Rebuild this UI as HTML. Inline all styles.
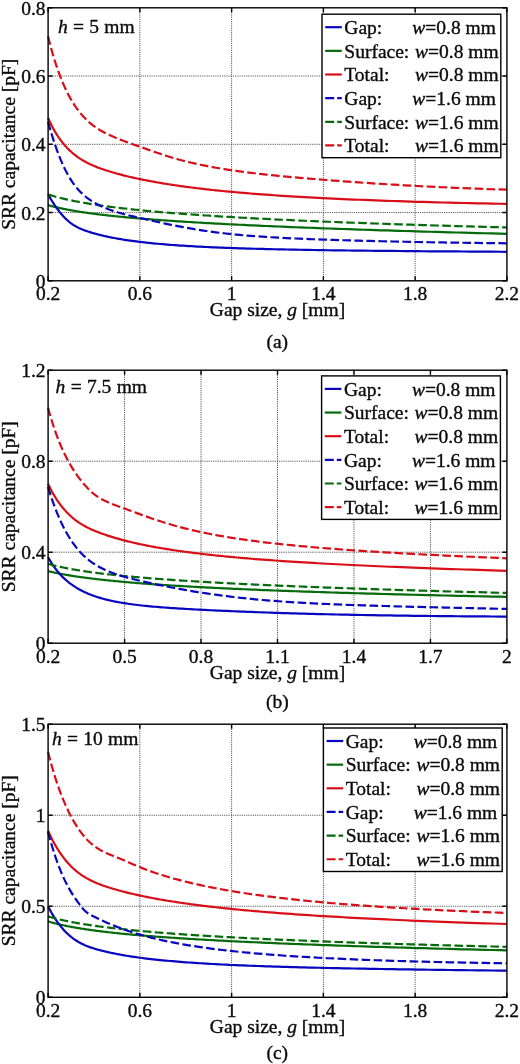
<!DOCTYPE html>
<html><head><meta charset="utf-8"><title>SRR capacitance vs gap size</title>
<style>
html,body{margin:0;padding:0;background:#fff;}
body{width:520px;height:1064px;overflow:hidden;}
svg{display:block;font-family:'Liberation Serif','Times New Roman',serif;font-size:19.5px;}
text{fill:#0a0a0a;stroke:#0a0a0a;stroke-width:0.35px;}
.gr{stroke:#5a5a5a;stroke-width:1;stroke-dasharray:1.2 1;fill:none;}
.ax{stroke:#000000;stroke-width:1.4;fill:none;}
rect.ax[fill]{fill:#fff;}
.cv{fill:none;stroke-width:2.2;stroke-linejoin:round;}
.ds{stroke-dasharray:8.6 3.4;}
.ld{stroke-dasharray:9 3;}
</style></head>
<body>
<svg width="520" height="1064" viewBox="0 0 520 1064">
<line x1="139.86" y1="7.8" x2="139.86" y2="280.8" class="gr"/>
<line x1="231.62" y1="7.8" x2="231.62" y2="280.8" class="gr"/>
<line x1="323.38" y1="7.8" x2="323.38" y2="280.8" class="gr"/>
<line x1="415.14" y1="7.8" x2="415.14" y2="280.8" class="gr"/>
<line x1="48.1" y1="212.55" x2="506.9" y2="212.55" class="gr"/>
<line x1="48.1" y1="144.3" x2="506.9" y2="144.3" class="gr"/>
<line x1="48.1" y1="76.05" x2="506.9" y2="76.05" class="gr"/>
<path d="M48.1 205.15 L48.8 205.35 L49.5 205.55 L50.22 205.75 L50.95 205.94 L51.69 206.14 L52.45 206.33 L53.21 206.53 L53.98 206.72 L54.77 206.92 L55.57 207.11 L56.38 207.3 L57.2 207.49 L58.04 207.69 L58.89 207.88 L59.75 208.07 L60.62 208.26 L61.51 208.45 L62.41 208.64 L63.32 208.82 L64.25 209.01 L65.19 209.2 L66.15 209.39 L67.12 209.58 L68.11 209.76 L69.11 209.95 L70.13 210.13 L71.16 210.32 L72.21 210.5 L73.27 210.69 L74.35 210.87 L75.45 211.06 L76.56 211.24 L77.69 211.42 L78.83 211.61 L80 211.79 L81.18 211.97 L82.38 212.15 L83.6 212.33 L84.84 212.51 L86.09 212.69 L87.36 212.87 L88.66 213.05 L89.97 213.23 L91.31 213.41 L92.66 213.59 L94.03 213.77 L95.43 213.95 L96.85 214.13 L98.28 214.31 L99.74 214.48 L101.22 214.66 L102.73 214.84 L104.26 215.02 L105.81 215.19 L107.38 215.37 L108.98 215.55 L110.6 215.72 L112.25 215.9 L113.92 216.07 L115.62 216.25 L117.34 216.43 L119.09 216.6 L120.87 216.78 L122.67 216.95 L124.5 217.13 L126.36 217.3 L128.24 217.48 L130.16 217.65 L132.1 217.82 L134.08 218 L136.08 218.17 L138.11 218.35 L140.18 218.52 L142.27 218.69 L144.4 218.87 L146.56 219.04 L148.76 219.21 L150.98 219.39 L153.24 219.56 L155.54 219.73 L157.87 219.91 L160.23 220.08 L162.63 220.25 L165.07 220.43 L167.55 220.6 L170.06 220.77 L172.61 220.95 L175.2 221.12 L177.83 221.29 L180.5 221.47 L183.2 221.64 L185.95 221.81 L188.75 221.99 L191.58 222.16 L194.46 222.33 L197.38 222.51 L200.34 222.68 L203.36 222.85 L206.41 223.03 L209.51 223.2 L212.66 223.37 L215.86 223.55 L219.11 223.72 L222.4 223.9 L225.75 224.07 L229.15 224.24 L232.59 224.42 L236.1 224.59 L239.65 224.77 L243.26 224.94 L246.92 225.12 L250.64 225.29 L254.41 225.47 L258.24 225.64 L262.14 225.82 L266.08 226 L270.09 226.17 L274.16 226.35 L278.3 226.52 L282.49 226.7 L286.75 226.88 L291.07 227.06 L295.46 227.23 L299.92 227.41 L304.44 227.59 L309.04 227.77 L313.7 227.95 L318.43 228.12 L323.24 228.3 L328.11 228.48 L333.07 228.66 L338.09 228.84 L343.2 229.02 L348.38 229.2 L353.64 229.38 L358.98 229.56 L364.4 229.75 L369.9 229.93 L375.49 230.11 L381.16 230.29 L386.92 230.47 L392.77 230.66 L398.7 230.84 L404.73 231.02 L410.84 231.21 L417.05 231.39 L423.35 231.58 L429.75 231.76 L436.25 231.95 L442.85 232.14 L449.54 232.32 L456.34 232.51 L463.24 232.7 L470.24 232.89 L477.36 233.07 L484.58 233.26 L491.91 233.45 L499.35 233.64 L506.9 233.83" stroke="#056a0a" class="cv"/>
<path d="M48.1 194.48 L48.8 195.7 L49.5 196.92 L50.22 198.13 L50.95 199.34 L51.69 200.55 L52.45 201.75 L53.21 202.95 L53.98 204.13 L54.77 205.31 L55.57 206.48 L56.38 207.63 L57.2 208.77 L58.04 209.9 L58.89 211.01 L59.75 212.1 L60.62 213.18 L61.51 214.23 L62.41 215.27 L63.32 216.28 L64.25 217.26 L65.19 218.22 L66.15 219.16 L67.12 220.06 L68.11 220.94 L69.11 221.78 L70.13 222.59 L71.16 223.37 L72.21 224.12 L73.27 224.83 L74.35 225.51 L75.45 226.15 L76.56 226.77 L77.69 227.36 L78.83 227.93 L80 228.47 L81.18 229 L82.38 229.5 L83.6 229.98 L84.84 230.44 L86.09 230.89 L87.36 231.33 L88.66 231.76 L89.97 232.17 L91.31 232.58 L92.66 232.98 L94.03 233.37 L95.43 233.76 L96.85 234.14 L98.28 234.52 L99.74 234.89 L101.22 235.25 L102.73 235.61 L104.26 235.97 L105.81 236.32 L107.38 236.66 L108.98 236.99 L110.6 237.33 L112.25 237.65 L113.92 237.97 L115.62 238.29 L117.34 238.6 L119.09 238.9 L120.87 239.2 L122.67 239.5 L124.5 239.79 L126.36 240.07 L128.24 240.35 L130.16 240.62 L132.1 240.89 L134.08 241.16 L136.08 241.42 L138.11 241.67 L140.18 241.93 L142.27 242.17 L144.4 242.41 L146.56 242.65 L148.76 242.88 L150.98 243.11 L153.24 243.34 L155.54 243.56 L157.87 243.77 L160.23 243.98 L162.63 244.19 L165.07 244.39 L167.55 244.59 L170.06 244.79 L172.61 244.98 L175.2 245.17 L177.83 245.35 L180.5 245.53 L183.2 245.71 L185.95 245.88 L188.75 246.05 L191.58 246.21 L194.46 246.38 L197.38 246.53 L200.34 246.69 L203.36 246.84 L206.41 246.99 L209.51 247.13 L212.66 247.28 L215.86 247.41 L219.11 247.55 L222.4 247.68 L225.75 247.81 L229.15 247.94 L232.59 248.06 L236.1 248.18 L239.65 248.3 L243.26 248.42 L246.92 248.53 L250.64 248.64 L254.41 248.75 L258.24 248.85 L262.14 248.95 L266.08 249.05 L270.09 249.15 L274.16 249.25 L278.3 249.34 L282.49 249.43 L286.75 249.52 L291.07 249.6 L295.46 249.69 L299.92 249.77 L304.44 249.85 L309.04 249.93 L313.7 250.01 L318.43 250.08 L323.24 250.16 L328.11 250.23 L333.07 250.3 L338.09 250.36 L343.2 250.43 L348.38 250.5 L353.64 250.56 L358.98 250.62 L364.4 250.68 L369.9 250.74 L375.49 250.8 L381.16 250.86 L386.92 250.91 L392.77 250.97 L398.7 251.02 L404.73 251.07 L410.84 251.13 L417.05 251.18 L423.35 251.23 L429.75 251.28 L436.25 251.32 L442.85 251.37 L449.54 251.42 L456.34 251.47 L463.24 251.51 L470.24 251.56 L477.36 251.6 L484.58 251.65 L491.91 251.69 L499.35 251.74 L506.9 251.78" stroke="#0707bf" class="cv"/>
<path d="M48.1 117.85 L48.8 119.45 L49.5 121.02 L50.22 122.56 L50.95 124.08 L51.69 125.57 L52.45 127.03 L53.21 128.46 L53.98 129.87 L54.77 131.25 L55.57 132.6 L56.38 133.92 L57.2 135.22 L58.04 136.5 L58.89 137.75 L59.75 138.97 L60.62 140.17 L61.51 141.35 L62.41 142.5 L63.32 143.62 L64.25 144.73 L65.19 145.81 L66.15 146.86 L67.12 147.9 L68.11 148.91 L69.11 149.89 L70.13 150.86 L71.16 151.8 L72.21 152.72 L73.27 153.62 L74.35 154.5 L75.45 155.36 L76.56 156.2 L77.69 157.02 L78.83 157.82 L80 158.59 L81.18 159.35 L82.38 160.09 L83.6 160.81 L84.84 161.51 L86.09 162.19 L87.36 162.86 L88.66 163.51 L89.97 164.14 L91.31 164.76 L92.66 165.37 L94.03 165.96 L95.43 166.54 L96.85 167.11 L98.28 167.66 L99.74 168.21 L101.22 168.74 L102.73 169.27 L104.26 169.79 L105.81 170.3 L107.38 170.8 L108.98 171.3 L110.6 171.79 L112.25 172.28 L113.92 172.76 L115.62 173.24 L117.34 173.71 L119.09 174.18 L120.87 174.65 L122.67 175.12 L124.5 175.58 L126.36 176.04 L128.24 176.5 L130.16 176.95 L132.1 177.4 L134.08 177.84 L136.08 178.28 L138.11 178.72 L140.18 179.16 L142.27 179.59 L144.4 180.02 L146.56 180.44 L148.76 180.86 L150.98 181.28 L153.24 181.7 L155.54 182.11 L157.87 182.52 L160.23 182.92 L162.63 183.32 L165.07 183.72 L167.55 184.12 L170.06 184.51 L172.61 184.9 L175.2 185.28 L177.83 185.66 L180.5 186.04 L183.2 186.42 L185.95 186.79 L188.75 187.15 L191.58 187.52 L194.46 187.88 L197.38 188.24 L200.34 188.59 L203.36 188.94 L206.41 189.29 L209.51 189.63 L212.66 189.97 L215.86 190.31 L219.11 190.65 L222.4 190.98 L225.75 191.3 L229.15 191.63 L232.59 191.95 L236.1 192.26 L239.65 192.58 L243.26 192.89 L246.92 193.19 L250.64 193.5 L254.41 193.8 L258.24 194.09 L262.14 194.39 L266.08 194.68 L270.09 194.96 L274.16 195.25 L278.3 195.53 L282.49 195.8 L286.75 196.07 L291.07 196.34 L295.46 196.61 L299.92 196.87 L304.44 197.13 L309.04 197.39 L313.7 197.64 L318.43 197.89 L323.24 198.13 L328.11 198.38 L333.07 198.61 L338.09 198.85 L343.2 199.08 L348.38 199.31 L353.64 199.53 L358.98 199.76 L364.4 199.97 L369.9 200.19 L375.49 200.4 L381.16 200.61 L386.92 200.81 L392.77 201.01 L398.7 201.21 L404.73 201.4 L410.84 201.59 L417.05 201.78 L423.35 201.96 L429.75 202.15 L436.25 202.32 L442.85 202.5 L449.54 202.67 L456.34 202.83 L463.24 203 L470.24 203.15 L477.36 203.31 L484.58 203.46 L491.91 203.61 L499.35 203.76 L506.9 203.9" stroke="#d80f18" class="cv"/>
<path d="M48.1 194.48 L48.8 194.7 L49.5 194.92 L50.22 195.14 L50.95 195.36 L51.69 195.58 L52.45 195.81 L53.21 196.03 L53.98 196.25 L54.77 196.47 L55.57 196.69 L56.38 196.91 L57.2 197.13 L58.04 197.35 L58.89 197.57 L59.75 197.79 L60.62 198.01 L61.51 198.23 L62.41 198.44 L63.32 198.66 L64.25 198.88 L65.19 199.1 L66.15 199.32 L67.12 199.53 L68.11 199.75 L69.11 199.97 L70.13 200.19 L71.16 200.4 L72.21 200.62 L73.27 200.84 L74.35 201.05 L75.45 201.27 L76.56 201.48 L77.69 201.7 L78.83 201.92 L80 202.13 L81.18 202.35 L82.38 202.56 L83.6 202.77 L84.84 202.99 L86.09 203.2 L87.36 203.42 L88.66 203.63 L89.97 203.85 L91.31 204.06 L92.66 204.27 L94.03 204.48 L95.43 204.7 L96.85 204.91 L98.28 205.12 L99.74 205.34 L101.22 205.55 L102.73 205.76 L104.26 205.97 L105.81 206.18 L107.38 206.39 L108.98 206.61 L110.6 206.82 L112.25 207.03 L113.92 207.24 L115.62 207.45 L117.34 207.66 L119.09 207.87 L120.87 208.08 L122.67 208.29 L124.5 208.5 L126.36 208.71 L128.24 208.92 L130.16 209.12 L132.1 209.33 L134.08 209.54 L136.08 209.75 L138.11 209.96 L140.18 210.17 L142.27 210.37 L144.4 210.58 L146.56 210.79 L148.76 211 L150.98 211.2 L153.24 211.41 L155.54 211.62 L157.87 211.82 L160.23 212.03 L162.63 212.24 L165.07 212.44 L167.55 212.65 L170.06 212.85 L172.61 213.06 L175.2 213.27 L177.83 213.47 L180.5 213.68 L183.2 213.88 L185.95 214.09 L188.75 214.29 L191.58 214.49 L194.46 214.7 L197.38 214.9 L200.34 215.11 L203.36 215.31 L206.41 215.51 L209.51 215.72 L212.66 215.92 L215.86 216.12 L219.11 216.33 L222.4 216.53 L225.75 216.73 L229.15 216.93 L232.59 217.14 L236.1 217.34 L239.65 217.54 L243.26 217.74 L246.92 217.94 L250.64 218.14 L254.41 218.34 L258.24 218.55 L262.14 218.75 L266.08 218.95 L270.09 219.15 L274.16 219.35 L278.3 219.55 L282.49 219.75 L286.75 219.95 L291.07 220.15 L295.46 220.35 L299.92 220.55 L304.44 220.75 L309.04 220.95 L313.7 221.14 L318.43 221.34 L323.24 221.54 L328.11 221.74 L333.07 221.94 L338.09 222.14 L343.2 222.34 L348.38 222.53 L353.64 222.73 L358.98 222.93 L364.4 223.13 L369.9 223.32 L375.49 223.52 L381.16 223.72 L386.92 223.91 L392.77 224.11 L398.7 224.31 L404.73 224.5 L410.84 224.7 L417.05 224.9 L423.35 225.09 L429.75 225.29 L436.25 225.48 L442.85 225.68 L449.54 225.87 L456.34 226.07 L463.24 226.27 L470.24 226.46 L477.36 226.66 L484.58 226.85 L491.91 227.04 L499.35 227.24 L506.9 227.43" stroke="#056a0a" class="cv ds"/>
<path d="M48.1 121.87 L48.8 124.4 L49.5 126.9 L50.22 129.39 L50.95 131.87 L51.69 134.32 L52.45 136.75 L53.21 139.16 L53.98 141.54 L54.77 143.9 L55.57 146.23 L56.38 148.53 L57.2 150.8 L58.04 153.04 L58.89 155.24 L59.75 157.41 L60.62 159.55 L61.51 161.64 L62.41 163.7 L63.32 165.72 L64.25 167.69 L65.19 169.62 L66.15 171.51 L67.12 173.34 L68.11 175.14 L69.11 176.88 L70.13 178.57 L71.16 180.2 L72.21 181.79 L73.27 183.32 L74.35 184.79 L75.45 186.22 L76.56 187.6 L77.69 188.93 L78.83 190.22 L80 191.45 L81.18 192.65 L82.38 193.8 L83.6 194.91 L84.84 195.99 L86.09 197.02 L87.36 198.02 L88.66 198.98 L89.97 199.9 L91.31 200.8 L92.66 201.66 L94.03 202.49 L95.43 203.3 L96.85 204.07 L98.28 204.82 L99.74 205.55 L101.22 206.25 L102.73 206.93 L104.26 207.59 L105.81 208.23 L107.38 208.85 L108.98 209.45 L110.6 210.03 L112.25 210.6 L113.92 211.16 L115.62 211.7 L117.34 212.23 L119.09 212.75 L120.87 213.26 L122.67 213.76 L124.5 214.25 L126.36 214.74 L128.24 215.22 L130.16 215.7 L132.1 216.18 L134.08 216.65 L136.08 217.12 L138.11 217.6 L140.18 218.07 L142.27 218.55 L144.4 219.03 L146.56 219.52 L148.76 220.01 L150.98 220.51 L153.24 221.01 L155.54 221.52 L157.87 222.03 L160.23 222.54 L162.63 223.06 L165.07 223.57 L167.55 224.09 L170.06 224.6 L172.61 225.12 L175.2 225.63 L177.83 226.15 L180.5 226.66 L183.2 227.16 L185.95 227.66 L188.75 228.16 L191.58 228.65 L194.46 229.14 L197.38 229.62 L200.34 230.09 L203.36 230.56 L206.41 231.01 L209.51 231.46 L212.66 231.9 L215.86 232.32 L219.11 232.74 L222.4 233.14 L225.75 233.53 L229.15 233.91 L232.59 234.27 L236.1 234.62 L239.65 234.95 L243.26 235.28 L246.92 235.59 L250.64 235.88 L254.41 236.17 L258.24 236.45 L262.14 236.71 L266.08 236.96 L270.09 237.21 L274.16 237.44 L278.3 237.67 L282.49 237.89 L286.75 238.1 L291.07 238.3 L295.46 238.5 L299.92 238.69 L304.44 238.88 L309.04 239.06 L313.7 239.24 L318.43 239.41 L323.24 239.58 L328.11 239.75 L333.07 239.91 L338.09 240.07 L343.2 240.23 L348.38 240.38 L353.64 240.54 L358.98 240.68 L364.4 240.83 L369.9 240.97 L375.49 241.11 L381.16 241.25 L386.92 241.39 L392.77 241.52 L398.7 241.65 L404.73 241.77 L410.84 241.89 L417.05 242.01 L423.35 242.13 L429.75 242.24 L436.25 242.35 L442.85 242.46 L449.54 242.57 L456.34 242.67 L463.24 242.77 L470.24 242.86 L477.36 242.96 L484.58 243.05 L491.91 243.14 L499.35 243.22 L506.9 243.3" stroke="#0707bf" class="cv ds"/>
<path d="M48.1 36.31 L48.8 39.19 L49.5 42.02 L50.22 44.82 L50.95 47.57 L51.69 50.28 L52.45 52.96 L53.21 55.59 L53.98 58.18 L54.77 60.73 L55.57 63.24 L56.38 65.71 L57.2 68.14 L58.04 70.53 L58.89 72.88 L59.75 75.19 L60.62 77.46 L61.51 79.69 L62.41 81.88 L63.32 84.02 L64.25 86.13 L65.19 88.19 L66.15 90.21 L67.12 92.19 L68.11 94.13 L69.11 96.03 L70.13 97.88 L71.16 99.69 L72.21 101.46 L73.27 103.19 L74.35 104.87 L75.45 106.51 L76.56 108.11 L77.69 109.66 L78.83 111.17 L80 112.64 L81.18 114.07 L82.38 115.46 L83.6 116.81 L84.84 118.11 L86.09 119.38 L87.36 120.61 L88.66 121.79 L89.97 122.94 L91.31 124.05 L92.66 125.12 L94.03 126.15 L95.43 127.15 L96.85 128.11 L98.28 129.04 L99.74 129.95 L101.22 130.82 L102.73 131.67 L104.26 132.5 L105.81 133.31 L107.38 134.09 L108.98 134.86 L110.6 135.61 L112.25 136.34 L113.92 137.06 L115.62 137.77 L117.34 138.47 L119.09 139.17 L120.87 139.85 L122.67 140.54 L124.5 141.22 L126.36 141.9 L128.24 142.59 L130.16 143.27 L132.1 143.97 L134.08 144.67 L136.08 145.37 L138.11 146.09 L140.18 146.83 L142.27 147.57 L144.4 148.33 L146.56 149.1 L148.76 149.87 L150.98 150.66 L153.24 151.45 L155.54 152.24 L157.87 153.03 L160.23 153.83 L162.63 154.62 L165.07 155.41 L167.55 156.2 L170.06 156.98 L172.61 157.74 L175.2 158.5 L177.83 159.25 L180.5 159.99 L183.2 160.71 L185.95 161.41 L188.75 162.1 L191.58 162.78 L194.46 163.44 L197.38 164.09 L200.34 164.72 L203.36 165.35 L206.41 165.95 L209.51 166.55 L212.66 167.13 L215.86 167.71 L219.11 168.26 L222.4 168.81 L225.75 169.35 L229.15 169.87 L232.59 170.38 L236.1 170.89 L239.65 171.38 L243.26 171.86 L246.92 172.33 L250.64 172.8 L254.41 173.25 L258.24 173.7 L262.14 174.14 L266.08 174.57 L270.09 175 L274.16 175.42 L278.3 175.83 L282.49 176.24 L286.75 176.64 L291.07 177.04 L295.46 177.44 L299.92 177.83 L304.44 178.22 L309.04 178.61 L313.7 179 L318.43 179.38 L323.24 179.77 L328.11 180.15 L333.07 180.53 L338.09 180.92 L343.2 181.3 L348.38 181.68 L353.64 182.05 L358.98 182.43 L364.4 182.8 L369.9 183.17 L375.49 183.54 L381.16 183.9 L386.92 184.26 L392.77 184.61 L398.7 184.96 L404.73 185.31 L410.84 185.65 L417.05 185.98 L423.35 186.31 L429.75 186.64 L436.25 186.95 L442.85 187.27 L449.54 187.57 L456.34 187.86 L463.24 188.15 L470.24 188.43 L477.36 188.71 L484.58 188.97 L491.91 189.23 L499.35 189.47 L506.9 189.71" stroke="#d80f18" class="cv ds"/>
<path d="M48.1 280.8v-4.5M48.1 7.8v4.5M139.86 280.8v-4.5M139.86 7.8v4.5M231.62 280.8v-4.5M231.62 7.8v4.5M323.38 280.8v-4.5M323.38 7.8v4.5M415.14 280.8v-4.5M415.14 7.8v4.5M506.9 280.8v-4.5M506.9 7.8v4.5M48.1 280.8h4.5M506.9 280.8h-4.5M48.1 212.55h4.5M506.9 212.55h-4.5M48.1 144.3h4.5M506.9 144.3h-4.5M48.1 76.05h4.5M506.9 76.05h-4.5M48.1 7.8h4.5M506.9 7.8h-4.5" class="ax"/>
<rect x="48.1" y="7.8" width="458.8" height="273" class="ax"/>
<text x="48.1" y="300.1" text-anchor="middle">0.2</text>
<text x="139.86" y="300.1" text-anchor="middle">0.6</text>
<text x="231.62" y="300.1" text-anchor="middle">1</text>
<text x="323.38" y="300.1" text-anchor="middle">1.4</text>
<text x="415.14" y="300.1" text-anchor="middle">1.8</text>
<text x="506.9" y="300.1" text-anchor="middle">2.2</text>
<text x="45.6" y="287.8" text-anchor="end">0</text>
<text x="45.6" y="219.55" text-anchor="end">0.2</text>
<text x="45.6" y="151.3" text-anchor="end">0.4</text>
<text x="45.6" y="83.05" text-anchor="end">0.6</text>
<text x="45.6" y="14.8" text-anchor="end">0.8</text>
<text x="277.5" y="316.1" text-anchor="middle">Gap size, <tspan font-style="italic">g</tspan> [mm]</text>
<text transform="translate(15 144.3) rotate(-90)" text-anchor="middle">SRR capacitance [pF]</text>
<text x="57.9" y="32.6" word-spacing="0.45"><tspan font-style="italic">h</tspan> = 5 mm</text>
<text x="277.3" y="347.8" text-anchor="middle">(a)</text>
<rect x="322" y="14.2" width="178.8" height="143.5" fill="#fff" class="ax"/>
<line x1="325.2" y1="27.2" x2="341.8" y2="27.2" stroke="#0707bf" stroke-width="2.2"/>
<text x="344.3" y="34">Gap:</text>
<text x="412.3" y="34"><tspan font-style="italic">w</tspan>=0.8 mm</text>
<line x1="325.2" y1="50.85" x2="341.8" y2="50.85" stroke="#056a0a" stroke-width="2.2"/>
<text x="344.3" y="57.65">Surface:</text>
<text x="415" y="57.65"><tspan font-style="italic">w</tspan>=0.8 mm</text>
<line x1="325.2" y1="74.5" x2="341.8" y2="74.5" stroke="#d80f18" stroke-width="2.2"/>
<text x="344.3" y="81.3">Total:</text>
<text x="415" y="81.3"><tspan font-style="italic">w</tspan>=0.8 mm</text>
<line x1="325.2" y1="98.15" x2="341.8" y2="98.15" stroke="#0707bf" stroke-width="2.2" class="ld"/>
<text x="344.3" y="104.95">Gap:</text>
<text x="412.3" y="104.95"><tspan font-style="italic">w</tspan>=1.6 mm</text>
<line x1="325.2" y1="121.8" x2="341.8" y2="121.8" stroke="#056a0a" stroke-width="2.2" class="ld"/>
<text x="344.3" y="128.6">Surface:</text>
<text x="415" y="128.6"><tspan font-style="italic">w</tspan>=1.6 mm</text>
<line x1="325.2" y1="145.45" x2="341.8" y2="145.45" stroke="#d80f18" stroke-width="2.2" class="ld"/>
<text x="344.3" y="152.25">Total:</text>
<text x="415" y="152.25"><tspan font-style="italic">w</tspan>=1.6 mm</text>
<line x1="124.57" y1="370.2" x2="124.57" y2="643.2" class="gr"/>
<line x1="201.03" y1="370.2" x2="201.03" y2="643.2" class="gr"/>
<line x1="277.5" y1="370.2" x2="277.5" y2="643.2" class="gr"/>
<line x1="353.97" y1="370.2" x2="353.97" y2="643.2" class="gr"/>
<line x1="430.43" y1="370.2" x2="430.43" y2="643.2" class="gr"/>
<line x1="48.1" y1="552.2" x2="506.9" y2="552.2" class="gr"/>
<line x1="48.1" y1="461.2" x2="506.9" y2="461.2" class="gr"/>
<path d="M48.1 571.14 L48.84 571.32 L49.6 571.5 L50.36 571.68 L51.14 571.86 L51.93 572.03 L52.73 572.21 L53.54 572.39 L54.36 572.57 L55.2 572.74 L56.04 572.92 L56.9 573.1 L57.78 573.27 L58.66 573.45 L59.56 573.63 L60.47 573.8 L61.39 573.98 L62.33 574.15 L63.28 574.33 L64.25 574.5 L65.23 574.67 L66.22 574.85 L67.23 575.02 L68.25 575.2 L69.29 575.37 L70.34 575.54 L71.41 575.71 L72.49 575.89 L73.59 576.06 L74.71 576.23 L75.84 576.4 L76.99 576.57 L78.15 576.74 L79.33 576.91 L80.53 577.09 L81.75 577.26 L82.98 577.43 L84.24 577.6 L85.51 577.76 L86.8 577.93 L88.1 578.1 L89.43 578.27 L90.78 578.44 L92.14 578.61 L93.53 578.78 L94.94 578.94 L96.36 579.11 L97.81 579.28 L99.28 579.45 L100.77 579.61 L102.28 579.78 L103.82 579.95 L105.37 580.11 L106.95 580.28 L108.55 580.44 L110.18 580.61 L111.83 580.78 L113.5 580.94 L115.2 581.11 L116.92 581.27 L118.67 581.43 L120.44 581.6 L122.24 581.76 L124.06 581.93 L125.92 582.09 L127.8 582.25 L129.7 582.42 L131.64 582.58 L133.6 582.74 L135.59 582.91 L137.61 583.07 L139.66 583.23 L141.74 583.39 L143.85 583.55 L145.99 583.72 L148.16 583.88 L150.36 584.04 L152.6 584.2 L154.86 584.36 L157.17 584.52 L159.5 584.68 L161.87 584.84 L164.27 585 L166.71 585.16 L169.18 585.32 L171.69 585.48 L174.24 585.64 L176.82 585.8 L179.44 585.96 L182.1 586.11 L184.8 586.27 L187.54 586.43 L190.32 586.59 L193.14 586.75 L196 586.91 L198.9 587.06 L201.84 587.22 L204.83 587.38 L207.86 587.53 L210.93 587.69 L214.05 587.85 L217.21 588.01 L220.42 588.16 L223.68 588.32 L226.99 588.47 L230.34 588.63 L233.74 588.79 L237.19 588.94 L240.69 589.1 L244.25 589.25 L247.85 589.41 L251.51 589.56 L255.22 589.72 L258.98 589.87 L262.8 590.03 L266.68 590.18 L270.61 590.33 L274.6 590.49 L278.65 590.64 L282.76 590.8 L286.92 590.95 L291.15 591.1 L295.44 591.26 L299.79 591.41 L304.2 591.56 L308.68 591.72 L313.23 591.87 L317.84 592.02 L322.52 592.17 L327.26 592.33 L332.08 592.48 L336.97 592.63 L341.92 592.78 L346.95 592.94 L352.06 593.09 L357.23 593.24 L362.49 593.39 L367.82 593.54 L373.22 593.69 L378.71 593.84 L384.28 594 L389.92 594.15 L395.65 594.3 L401.47 594.45 L407.37 594.6 L413.35 594.75 L419.42 594.9 L425.58 595.05 L431.83 595.2 L438.17 595.35 L444.61 595.5 L451.13 595.65 L457.76 595.8 L464.48 595.95 L471.29 596.1 L478.21 596.25 L485.23 596.4 L492.35 596.55 L499.57 596.69 L506.9 596.84" stroke="#056a0a" class="cv"/>
<path d="M48.1 557.25 L48.84 558.58 L49.6 559.89 L50.36 561.17 L51.14 562.43 L51.93 563.66 L52.73 564.87 L53.54 566.06 L54.36 567.22 L55.2 568.36 L56.04 569.47 L56.9 570.56 L57.78 571.63 L58.66 572.68 L59.56 573.71 L60.47 574.71 L61.39 575.7 L62.33 576.66 L63.28 577.6 L64.25 578.52 L65.23 579.42 L66.22 580.3 L67.23 581.17 L68.25 582.01 L69.29 582.83 L70.34 583.64 L71.41 584.42 L72.49 585.19 L73.59 585.94 L74.71 586.68 L75.84 587.39 L76.99 588.09 L78.15 588.77 L79.33 589.44 L80.53 590.09 L81.75 590.72 L82.98 591.34 L84.24 591.94 L85.51 592.53 L86.8 593.1 L88.1 593.66 L89.43 594.21 L90.78 594.74 L92.14 595.26 L93.53 595.76 L94.94 596.25 L96.36 596.73 L97.81 597.2 L99.28 597.65 L100.77 598.09 L102.28 598.52 L103.82 598.94 L105.37 599.35 L106.95 599.74 L108.55 600.13 L110.18 600.5 L111.83 600.87 L113.5 601.22 L115.2 601.57 L116.92 601.9 L118.67 602.23 L120.44 602.54 L122.24 602.85 L124.06 603.15 L125.92 603.44 L127.8 603.72 L129.7 604 L131.64 604.27 L133.6 604.53 L135.59 604.78 L137.61 605.02 L139.66 605.26 L141.74 605.5 L143.85 605.72 L145.99 605.94 L148.16 606.16 L150.36 606.37 L152.6 606.57 L154.86 606.77 L157.17 606.96 L159.5 607.15 L161.87 607.34 L164.27 607.52 L166.71 607.7 L169.18 607.87 L171.69 608.04 L174.24 608.21 L176.82 608.38 L179.44 608.54 L182.1 608.7 L184.8 608.86 L187.54 609.02 L190.32 609.17 L193.14 609.32 L196 609.48 L198.9 609.63 L201.84 609.78 L204.83 609.93 L207.86 610.08 L210.93 610.23 L214.05 610.38 L217.21 610.53 L220.42 610.68 L223.68 610.82 L226.99 610.97 L230.34 611.12 L233.74 611.26 L237.19 611.4 L240.69 611.55 L244.25 611.69 L247.85 611.83 L251.51 611.97 L255.22 612.11 L258.98 612.25 L262.8 612.38 L266.68 612.52 L270.61 612.65 L274.6 612.79 L278.65 612.92 L282.76 613.05 L286.92 613.18 L291.15 613.3 L295.44 613.43 L299.79 613.55 L304.2 613.67 L308.68 613.8 L313.23 613.91 L317.84 614.03 L322.52 614.15 L327.26 614.26 L332.08 614.37 L336.97 614.48 L341.92 614.59 L346.95 614.69 L352.06 614.8 L357.23 614.9 L362.49 615 L367.82 615.1 L373.22 615.19 L378.71 615.28 L384.28 615.37 L389.92 615.46 L395.65 615.55 L401.47 615.63 L407.37 615.71 L413.35 615.79 L419.42 615.86 L425.58 615.94 L431.83 616.01 L438.17 616.07 L444.61 616.14 L451.13 616.2 L457.76 616.26 L464.48 616.31 L471.29 616.37 L478.21 616.42 L485.23 616.46 L492.35 616.51 L499.57 616.55 L506.9 616.59" stroke="#0707bf" class="cv"/>
<path d="M48.1 484.03 L48.84 485.58 L49.6 487.1 L50.36 488.61 L51.14 490.09 L51.93 491.55 L52.73 492.98 L53.54 494.39 L54.36 495.78 L55.2 497.15 L56.04 498.49 L56.9 499.81 L57.78 501.11 L58.66 502.38 L59.56 503.63 L60.47 504.86 L61.39 506.06 L62.33 507.24 L63.28 508.39 L64.25 509.53 L65.23 510.63 L66.22 511.72 L67.23 512.78 L68.25 513.82 L69.29 514.83 L70.34 515.82 L71.41 516.78 L72.49 517.72 L73.59 518.64 L74.71 519.53 L75.84 520.4 L76.99 521.24 L78.15 522.06 L79.33 522.86 L80.53 523.63 L81.75 524.38 L82.98 525.11 L84.24 525.83 L85.51 526.52 L86.8 527.2 L88.1 527.86 L89.43 528.5 L90.78 529.13 L92.14 529.75 L93.53 530.35 L94.94 530.94 L96.36 531.52 L97.81 532.09 L99.28 532.65 L100.77 533.21 L102.28 533.75 L103.82 534.29 L105.37 534.83 L106.95 535.35 L108.55 535.88 L110.18 536.4 L111.83 536.91 L113.5 537.42 L115.2 537.93 L116.92 538.43 L118.67 538.92 L120.44 539.41 L122.24 539.9 L124.06 540.38 L125.92 540.85 L127.8 541.32 L129.7 541.79 L131.64 542.25 L133.6 542.71 L135.59 543.17 L137.61 543.61 L139.66 544.06 L141.74 544.5 L143.85 544.94 L145.99 545.37 L148.16 545.8 L150.36 546.22 L152.6 546.64 L154.86 547.05 L157.17 547.46 L159.5 547.87 L161.87 548.27 L164.27 548.67 L166.71 549.07 L169.18 549.46 L171.69 549.85 L174.24 550.23 L176.82 550.61 L179.44 550.99 L182.1 551.36 L184.8 551.73 L187.54 552.1 L190.32 552.46 L193.14 552.82 L196 553.17 L198.9 553.53 L201.84 553.88 L204.83 554.22 L207.86 554.56 L210.93 554.9 L214.05 555.24 L217.21 555.57 L220.42 555.9 L223.68 556.22 L226.99 556.55 L230.34 556.87 L233.74 557.18 L237.19 557.5 L240.69 557.81 L244.25 558.12 L247.85 558.42 L251.51 558.73 L255.22 559.03 L258.98 559.33 L262.8 559.62 L266.68 559.91 L270.61 560.2 L274.6 560.49 L278.65 560.77 L282.76 561.06 L286.92 561.34 L291.15 561.61 L295.44 561.89 L299.79 562.16 L304.2 562.43 L308.68 562.7 L313.23 562.97 L317.84 563.23 L322.52 563.49 L327.26 563.75 L332.08 564.01 L336.97 564.27 L341.92 564.52 L346.95 564.77 L352.06 565.02 L357.23 565.27 L362.49 565.52 L367.82 565.77 L373.22 566.01 L378.71 566.25 L384.28 566.49 L389.92 566.73 L395.65 566.97 L401.47 567.2 L407.37 567.44 L413.35 567.67 L419.42 567.9 L425.58 568.13 L431.83 568.36 L438.17 568.59 L444.61 568.81 L451.13 569.04 L457.76 569.26 L464.48 569.49 L471.29 569.71 L478.21 569.93 L485.23 570.15 L492.35 570.37 L499.57 570.59 L506.9 570.8" stroke="#d80f18" class="cv"/>
<path d="M48.1 563.88 L48.84 564.08 L49.6 564.29 L50.36 564.5 L51.14 564.71 L51.93 564.91 L52.73 565.12 L53.54 565.33 L54.36 565.53 L55.2 565.73 L56.04 565.94 L56.9 566.14 L57.78 566.34 L58.66 566.54 L59.56 566.74 L60.47 566.94 L61.39 567.14 L62.33 567.34 L63.28 567.54 L64.25 567.74 L65.23 567.94 L66.22 568.13 L67.23 568.33 L68.25 568.52 L69.29 568.72 L70.34 568.91 L71.41 569.11 L72.49 569.3 L73.59 569.49 L74.71 569.69 L75.84 569.88 L76.99 570.07 L78.15 570.26 L79.33 570.45 L80.53 570.64 L81.75 570.83 L82.98 571.02 L84.24 571.21 L85.51 571.4 L86.8 571.58 L88.1 571.77 L89.43 571.96 L90.78 572.14 L92.14 572.33 L93.53 572.52 L94.94 572.7 L96.36 572.89 L97.81 573.07 L99.28 573.25 L100.77 573.44 L102.28 573.62 L103.82 573.8 L105.37 573.99 L106.95 574.17 L108.55 574.35 L110.18 574.53 L111.83 574.71 L113.5 574.9 L115.2 575.08 L116.92 575.26 L118.67 575.44 L120.44 575.62 L122.24 575.8 L124.06 575.98 L125.92 576.15 L127.8 576.33 L129.7 576.51 L131.64 576.69 L133.6 576.87 L135.59 577.05 L137.61 577.22 L139.66 577.4 L141.74 577.58 L143.85 577.75 L145.99 577.93 L148.16 578.11 L150.36 578.28 L152.6 578.46 L154.86 578.64 L157.17 578.81 L159.5 578.99 L161.87 579.16 L164.27 579.34 L166.71 579.51 L169.18 579.69 L171.69 579.86 L174.24 580.04 L176.82 580.21 L179.44 580.39 L182.1 580.56 L184.8 580.74 L187.54 580.91 L190.32 581.08 L193.14 581.26 L196 581.43 L198.9 581.61 L201.84 581.78 L204.83 581.96 L207.86 582.13 L210.93 582.3 L214.05 582.48 L217.21 582.65 L220.42 582.82 L223.68 583 L226.99 583.17 L230.34 583.35 L233.74 583.52 L237.19 583.69 L240.69 583.87 L244.25 584.04 L247.85 584.22 L251.51 584.39 L255.22 584.56 L258.98 584.74 L262.8 584.91 L266.68 585.09 L270.61 585.26 L274.6 585.44 L278.65 585.61 L282.76 585.79 L286.92 585.96 L291.15 586.14 L295.44 586.31 L299.79 586.49 L304.2 586.66 L308.68 586.84 L313.23 587.01 L317.84 587.19 L322.52 587.37 L327.26 587.54 L332.08 587.72 L336.97 587.9 L341.92 588.07 L346.95 588.25 L352.06 588.43 L357.23 588.6 L362.49 588.78 L367.82 588.96 L373.22 589.14 L378.71 589.32 L384.28 589.5 L389.92 589.67 L395.65 589.85 L401.47 590.03 L407.37 590.21 L413.35 590.39 L419.42 590.57 L425.58 590.75 L431.83 590.94 L438.17 591.12 L444.61 591.3 L451.13 591.48 L457.76 591.66 L464.48 591.85 L471.29 592.03 L478.21 592.21 L485.23 592.4 L492.35 592.58 L499.57 592.76 L506.9 592.95" stroke="#056a0a" class="cv ds"/>
<path d="M48.1 486.88 L48.84 489.38 L49.6 491.85 L50.36 494.29 L51.14 496.69 L51.93 499.06 L52.73 501.4 L53.54 503.7 L54.36 505.97 L55.2 508.2 L56.04 510.4 L56.9 512.57 L57.78 514.7 L58.66 516.8 L59.56 518.86 L60.47 520.88 L61.39 522.87 L62.33 524.83 L63.28 526.75 L64.25 528.63 L65.23 530.47 L66.22 532.28 L67.23 534.06 L68.25 535.79 L69.29 537.49 L70.34 539.15 L71.41 540.78 L72.49 542.37 L73.59 543.91 L74.71 545.43 L75.84 546.9 L76.99 548.33 L78.15 549.73 L79.33 551.09 L80.53 552.41 L81.75 553.69 L82.98 554.93 L84.24 556.13 L85.51 557.29 L86.8 558.42 L88.1 559.5 L89.43 560.55 L90.78 561.57 L92.14 562.55 L93.53 563.5 L94.94 564.41 L96.36 565.3 L97.81 566.15 L99.28 566.98 L100.77 567.78 L102.28 568.55 L103.82 569.3 L105.37 570.02 L106.95 570.72 L108.55 571.4 L110.18 572.06 L111.83 572.69 L113.5 573.31 L115.2 573.92 L116.92 574.5 L118.67 575.08 L120.44 575.63 L122.24 576.18 L124.06 576.71 L125.92 577.24 L127.8 577.75 L129.7 578.26 L131.64 578.75 L133.6 579.25 L135.59 579.74 L137.61 580.22 L139.66 580.7 L141.74 581.18 L143.85 581.66 L145.99 582.14 L148.16 582.62 L150.36 583.11 L152.6 583.59 L154.86 584.08 L157.17 584.57 L159.5 585.05 L161.87 585.54 L164.27 586.03 L166.71 586.52 L169.18 587.01 L171.69 587.49 L174.24 587.98 L176.82 588.46 L179.44 588.94 L182.1 589.42 L184.8 589.9 L187.54 590.38 L190.32 590.85 L193.14 591.32 L196 591.79 L198.9 592.25 L201.84 592.71 L204.83 593.16 L207.86 593.61 L210.93 594.06 L214.05 594.5 L217.21 594.94 L220.42 595.37 L223.68 595.79 L226.99 596.21 L230.34 596.62 L233.74 597.03 L237.19 597.42 L240.69 597.82 L244.25 598.2 L247.85 598.57 L251.51 598.94 L255.22 599.3 L258.98 599.65 L262.8 599.99 L266.68 600.33 L270.61 600.65 L274.6 600.96 L278.65 601.27 L282.76 601.56 L286.92 601.85 L291.15 602.12 L295.44 602.39 L299.79 602.64 L304.2 602.89 L308.68 603.13 L313.23 603.37 L317.84 603.59 L322.52 603.81 L327.26 604.02 L332.08 604.23 L336.97 604.43 L341.92 604.62 L346.95 604.81 L352.06 604.99 L357.23 605.17 L362.49 605.35 L367.82 605.52 L373.22 605.68 L378.71 605.85 L384.28 606.01 L389.92 606.17 L395.65 606.32 L401.47 606.48 L407.37 606.63 L413.35 606.78 L419.42 606.93 L425.58 607.09 L431.83 607.24 L438.17 607.39 L444.61 607.54 L451.13 607.69 L457.76 607.84 L464.48 608 L471.29 608.15 L478.21 608.31 L485.23 608.47 L492.35 608.63 L499.57 608.8 L506.9 608.97" stroke="#0707bf" class="cv ds"/>
<path d="M48.1 407.73 L48.84 410.52 L49.6 413.26 L50.36 415.95 L51.14 418.6 L51.93 421.2 L52.73 423.76 L53.54 426.28 L54.36 428.75 L55.2 431.18 L56.04 433.57 L56.9 435.92 L57.78 438.22 L58.66 440.49 L59.56 442.72 L60.47 444.91 L61.39 447.06 L62.33 449.18 L63.28 451.25 L64.25 453.29 L65.23 455.3 L66.22 457.27 L67.23 459.2 L68.25 461.1 L69.29 462.97 L70.34 464.81 L71.41 466.61 L72.49 468.38 L73.59 470.12 L74.71 471.82 L75.84 473.5 L76.99 475.15 L78.15 476.77 L79.33 478.36 L80.53 479.92 L81.75 481.46 L82.98 482.96 L84.24 484.44 L85.51 485.9 L86.8 487.32 L88.1 488.7 L89.43 490.04 L90.78 491.33 L92.14 492.56 L93.53 493.73 L94.94 494.84 L96.36 495.88 L97.81 496.87 L99.28 497.8 L100.77 498.69 L102.28 499.53 L103.82 500.33 L105.37 501.09 L106.95 501.83 L108.55 502.53 L110.18 503.22 L111.83 503.88 L113.5 504.53 L115.2 505.18 L116.92 505.81 L118.67 506.45 L120.44 507.09 L122.24 507.73 L124.06 508.39 L125.92 509.06 L127.8 509.75 L129.7 510.45 L131.64 511.16 L133.6 511.88 L135.59 512.61 L137.61 513.35 L139.66 514.1 L141.74 514.85 L143.85 515.61 L145.99 516.38 L148.16 517.15 L150.36 517.92 L152.6 518.69 L154.86 519.46 L157.17 520.23 L159.5 521 L161.87 521.77 L164.27 522.53 L166.71 523.29 L169.18 524.04 L171.69 524.78 L174.24 525.52 L176.82 526.25 L179.44 526.96 L182.1 527.67 L184.8 528.36 L187.54 529.05 L190.32 529.72 L193.14 530.38 L196 531.03 L198.9 531.68 L201.84 532.31 L204.83 532.93 L207.86 533.54 L210.93 534.14 L214.05 534.73 L217.21 535.31 L220.42 535.88 L223.68 536.45 L226.99 537 L230.34 537.55 L233.74 538.08 L237.19 538.61 L240.69 539.13 L244.25 539.64 L247.85 540.15 L251.51 540.64 L255.22 541.13 L258.98 541.61 L262.8 542.08 L266.68 542.55 L270.61 543.01 L274.6 543.46 L278.65 543.9 L282.76 544.34 L286.92 544.77 L291.15 545.2 L295.44 545.62 L299.79 546.03 L304.2 546.44 L308.68 546.84 L313.23 547.24 L317.84 547.63 L322.52 548.02 L327.26 548.4 L332.08 548.77 L336.97 549.15 L341.92 549.51 L346.95 549.88 L352.06 550.23 L357.23 550.59 L362.49 550.94 L367.82 551.29 L373.22 551.63 L378.71 551.97 L384.28 552.31 L389.92 552.64 L395.65 552.97 L401.47 553.3 L407.37 553.62 L413.35 553.95 L419.42 554.27 L425.58 554.59 L431.83 554.9 L438.17 555.22 L444.61 555.53 L451.13 555.84 L457.76 556.15 L464.48 556.46 L471.29 556.77 L478.21 557.08 L485.23 557.38 L492.35 557.69 L499.57 558 L506.9 558.3" stroke="#d80f18" class="cv ds"/>
<path d="M48.1 643.2v-4.5M48.1 370.2v4.5M124.57 643.2v-4.5M124.57 370.2v4.5M201.03 643.2v-4.5M201.03 370.2v4.5M277.5 643.2v-4.5M277.5 370.2v4.5M353.97 643.2v-4.5M353.97 370.2v4.5M430.43 643.2v-4.5M430.43 370.2v4.5M506.9 643.2v-4.5M506.9 370.2v4.5M48.1 643.2h4.5M506.9 643.2h-4.5M48.1 552.2h4.5M506.9 552.2h-4.5M48.1 461.2h4.5M506.9 461.2h-4.5M48.1 370.2h4.5M506.9 370.2h-4.5" class="ax"/>
<rect x="48.1" y="370.2" width="458.8" height="273" class="ax"/>
<text x="48.1" y="662.5" text-anchor="middle">0.2</text>
<text x="124.57" y="662.5" text-anchor="middle">0.5</text>
<text x="201.03" y="662.5" text-anchor="middle">0.8</text>
<text x="277.5" y="662.5" text-anchor="middle">1.1</text>
<text x="353.97" y="662.5" text-anchor="middle">1.4</text>
<text x="430.43" y="662.5" text-anchor="middle">1.7</text>
<text x="506.9" y="662.5" text-anchor="middle">2</text>
<text x="45.6" y="650.2" text-anchor="end">0</text>
<text x="45.6" y="559.2" text-anchor="end">0.4</text>
<text x="45.6" y="468.2" text-anchor="end">0.8</text>
<text x="45.6" y="377.2" text-anchor="end">1.2</text>
<text x="277.5" y="678.5" text-anchor="middle">Gap size, <tspan font-style="italic">g</tspan> [mm]</text>
<text transform="translate(15 506.7) rotate(-90)" text-anchor="middle">SRR capacitance [pF]</text>
<text x="55.6" y="393.3" word-spacing="0.45"><tspan font-style="italic">h</tspan> = 7.5 mm</text>
<text x="277.3" y="708" text-anchor="middle">(b)</text>
<rect x="321.6" y="375.9" width="178.8" height="143.5" fill="#fff" class="ax"/>
<line x1="324.8" y1="388.9" x2="341.4" y2="388.9" stroke="#0707bf" stroke-width="2.2"/>
<text x="343.9" y="395.7">Gap:</text>
<text x="411.9" y="395.7"><tspan font-style="italic">w</tspan>=0.8 mm</text>
<line x1="324.8" y1="412.55" x2="341.4" y2="412.55" stroke="#056a0a" stroke-width="2.2"/>
<text x="343.9" y="419.35">Surface:</text>
<text x="414.6" y="419.35"><tspan font-style="italic">w</tspan>=0.8 mm</text>
<line x1="324.8" y1="436.2" x2="341.4" y2="436.2" stroke="#d80f18" stroke-width="2.2"/>
<text x="343.9" y="443">Total:</text>
<text x="414.6" y="443"><tspan font-style="italic">w</tspan>=0.8 mm</text>
<line x1="324.8" y1="459.85" x2="341.4" y2="459.85" stroke="#0707bf" stroke-width="2.2" class="ld"/>
<text x="343.9" y="466.65">Gap:</text>
<text x="411.9" y="466.65"><tspan font-style="italic">w</tspan>=1.6 mm</text>
<line x1="324.8" y1="483.5" x2="341.4" y2="483.5" stroke="#056a0a" stroke-width="2.2" class="ld"/>
<text x="343.9" y="490.3">Surface:</text>
<text x="414.6" y="490.3"><tspan font-style="italic">w</tspan>=1.6 mm</text>
<line x1="324.8" y1="507.15" x2="341.4" y2="507.15" stroke="#d80f18" stroke-width="2.2" class="ld"/>
<text x="343.9" y="513.95">Total:</text>
<text x="414.6" y="513.95"><tspan font-style="italic">w</tspan>=1.6 mm</text>
<line x1="139.86" y1="724.2" x2="139.86" y2="997.3" class="gr"/>
<line x1="231.62" y1="724.2" x2="231.62" y2="997.3" class="gr"/>
<line x1="323.38" y1="724.2" x2="323.38" y2="997.3" class="gr"/>
<line x1="415.14" y1="724.2" x2="415.14" y2="997.3" class="gr"/>
<line x1="48.1" y1="906.27" x2="506.9" y2="906.27" class="gr"/>
<line x1="48.1" y1="815.23" x2="506.9" y2="815.23" class="gr"/>
<path d="M48.1 921.4 L48.8 921.61 L49.5 921.82 L50.22 922.03 L50.95 922.24 L51.69 922.45 L52.45 922.66 L53.21 922.86 L53.98 923.07 L54.77 923.27 L55.57 923.48 L56.38 923.68 L57.2 923.88 L58.04 924.09 L58.89 924.29 L59.75 924.49 L60.62 924.69 L61.51 924.89 L62.41 925.09 L63.32 925.29 L64.25 925.49 L65.19 925.68 L66.15 925.88 L67.12 926.08 L68.11 926.27 L69.11 926.47 L70.13 926.66 L71.16 926.86 L72.21 927.05 L73.27 927.24 L74.35 927.44 L75.45 927.63 L76.56 927.82 L77.69 928.01 L78.83 928.2 L80 928.39 L81.18 928.58 L82.38 928.77 L83.6 928.96 L84.84 929.15 L86.09 929.34 L87.36 929.52 L88.66 929.71 L89.97 929.9 L91.31 930.08 L92.66 930.27 L94.03 930.45 L95.43 930.64 L96.85 930.82 L98.28 931.01 L99.74 931.19 L101.22 931.37 L102.73 931.56 L104.26 931.74 L105.81 931.92 L107.38 932.1 L108.98 932.28 L110.6 932.47 L112.25 932.65 L113.92 932.83 L115.62 933.01 L117.34 933.19 L119.09 933.37 L120.87 933.54 L122.67 933.72 L124.5 933.9 L126.36 934.08 L128.24 934.26 L130.16 934.44 L132.1 934.61 L134.08 934.79 L136.08 934.97 L138.11 935.14 L140.18 935.32 L142.27 935.5 L144.4 935.67 L146.56 935.85 L148.76 936.03 L150.98 936.2 L153.24 936.38 L155.54 936.55 L157.87 936.73 L160.23 936.9 L162.63 937.07 L165.07 937.25 L167.55 937.42 L170.06 937.6 L172.61 937.77 L175.2 937.95 L177.83 938.12 L180.5 938.29 L183.2 938.47 L185.95 938.64 L188.75 938.81 L191.58 938.99 L194.46 939.16 L197.38 939.33 L200.34 939.5 L203.36 939.68 L206.41 939.85 L209.51 940.02 L212.66 940.2 L215.86 940.37 L219.11 940.54 L222.4 940.71 L225.75 940.89 L229.15 941.06 L232.59 941.23 L236.1 941.4 L239.65 941.58 L243.26 941.75 L246.92 941.92 L250.64 942.09 L254.41 942.27 L258.24 942.44 L262.14 942.61 L266.08 942.79 L270.09 942.96 L274.16 943.13 L278.3 943.3 L282.49 943.48 L286.75 943.65 L291.07 943.82 L295.46 944 L299.92 944.17 L304.44 944.34 L309.04 944.52 L313.7 944.69 L318.43 944.87 L323.24 945.04 L328.11 945.21 L333.07 945.39 L338.09 945.56 L343.2 945.74 L348.38 945.91 L353.64 946.09 L358.98 946.26 L364.4 946.44 L369.9 946.62 L375.49 946.79 L381.16 946.97 L386.92 947.14 L392.77 947.32 L398.7 947.5 L404.73 947.68 L410.84 947.85 L417.05 948.03 L423.35 948.21 L429.75 948.39 L436.25 948.56 L442.85 948.74 L449.54 948.92 L456.34 949.1 L463.24 949.28 L470.24 949.46 L477.36 949.64 L484.58 949.82 L491.91 950 L499.35 950.19 L506.9 950.37" stroke="#056a0a" class="cv"/>
<path d="M48.1 906.3 L48.8 907.68 L49.5 909.04 L50.22 910.39 L50.95 911.72 L51.69 913.04 L52.45 914.33 L53.21 915.61 L53.98 916.87 L54.77 918.12 L55.57 919.34 L56.38 920.54 L57.2 921.73 L58.04 922.89 L58.89 924.04 L59.75 925.16 L60.62 926.27 L61.51 927.35 L62.41 928.41 L63.32 929.45 L64.25 930.47 L65.19 931.46 L66.15 932.43 L67.12 933.38 L68.11 934.3 L69.11 935.2 L70.13 936.08 L71.16 936.93 L72.21 937.75 L73.27 938.55 L74.35 939.33 L75.45 940.07 L76.56 940.79 L77.69 941.49 L78.83 942.16 L80 942.8 L81.18 943.42 L82.38 944.01 L83.6 944.58 L84.84 945.14 L86.09 945.67 L87.36 946.18 L88.66 946.68 L89.97 947.16 L91.31 947.63 L92.66 948.08 L94.03 948.51 L95.43 948.94 L96.85 949.35 L98.28 949.76 L99.74 950.15 L101.22 950.54 L102.73 950.92 L104.26 951.3 L105.81 951.67 L107.38 952.03 L108.98 952.39 L110.6 952.74 L112.25 953.09 L113.92 953.44 L115.62 953.78 L117.34 954.11 L119.09 954.44 L120.87 954.76 L122.67 955.08 L124.5 955.4 L126.36 955.71 L128.24 956.01 L130.16 956.32 L132.1 956.61 L134.08 956.9 L136.08 957.19 L138.11 957.47 L140.18 957.75 L142.27 958.03 L144.4 958.3 L146.56 958.56 L148.76 958.82 L150.98 959.08 L153.24 959.34 L155.54 959.59 L157.87 959.83 L160.23 960.07 L162.63 960.31 L165.07 960.54 L167.55 960.77 L170.06 961 L172.61 961.22 L175.2 961.44 L177.83 961.66 L180.5 961.87 L183.2 962.08 L185.95 962.28 L188.75 962.48 L191.58 962.68 L194.46 962.88 L197.38 963.07 L200.34 963.26 L203.36 963.44 L206.41 963.63 L209.51 963.8 L212.66 963.98 L215.86 964.15 L219.11 964.32 L222.4 964.49 L225.75 964.66 L229.15 964.82 L232.59 964.98 L236.1 965.13 L239.65 965.29 L243.26 965.44 L246.92 965.59 L250.64 965.73 L254.41 965.87 L258.24 966.02 L262.14 966.15 L266.08 966.29 L270.09 966.43 L274.16 966.56 L278.3 966.69 L282.49 966.82 L286.75 966.94 L291.07 967.06 L295.46 967.19 L299.92 967.31 L304.44 967.42 L309.04 967.54 L313.7 967.65 L318.43 967.77 L323.24 967.88 L328.11 967.99 L333.07 968.09 L338.09 968.2 L343.2 968.31 L348.38 968.41 L353.64 968.51 L358.98 968.61 L364.4 968.71 L369.9 968.81 L375.49 968.9 L381.16 969 L386.92 969.09 L392.77 969.19 L398.7 969.28 L404.73 969.37 L410.84 969.46 L417.05 969.55 L423.35 969.64 L429.75 969.73 L436.25 969.82 L442.85 969.9 L449.54 969.99 L456.34 970.07 L463.24 970.16 L470.24 970.24 L477.36 970.33 L484.58 970.41 L491.91 970.49 L499.35 970.58 L506.9 970.66" stroke="#0707bf" class="cv"/>
<path d="M48.1 830.76 L48.8 832.33 L49.5 833.89 L50.22 835.43 L50.95 836.94 L51.69 838.45 L52.45 839.93 L53.21 841.39 L53.98 842.83 L54.77 844.26 L55.57 845.66 L56.38 847.05 L57.2 848.41 L58.04 849.76 L58.89 851.08 L59.75 852.39 L60.62 853.67 L61.51 854.94 L62.41 856.18 L63.32 857.4 L64.25 858.6 L65.19 859.78 L66.15 860.94 L67.12 862.08 L68.11 863.19 L69.11 864.28 L70.13 865.35 L71.16 866.4 L72.21 867.43 L73.27 868.43 L74.35 869.41 L75.45 870.36 L76.56 871.3 L77.69 872.21 L78.83 873.09 L80 873.96 L81.18 874.8 L82.38 875.61 L83.6 876.4 L84.84 877.17 L86.09 877.91 L87.36 878.64 L88.66 879.34 L89.97 880.02 L91.31 880.68 L92.66 881.33 L94.03 881.96 L95.43 882.57 L96.85 883.16 L98.28 883.75 L99.74 884.32 L101.22 884.88 L102.73 885.42 L104.26 885.96 L105.81 886.48 L107.38 887 L108.98 887.51 L110.6 888.02 L112.25 888.52 L113.92 889.01 L115.62 889.51 L117.34 889.99 L119.09 890.48 L120.87 890.96 L122.67 891.44 L124.5 891.91 L126.36 892.38 L128.24 892.85 L130.16 893.31 L132.1 893.78 L134.08 894.23 L136.08 894.69 L138.11 895.14 L140.18 895.59 L142.27 896.03 L144.4 896.47 L146.56 896.91 L148.76 897.35 L150.98 897.78 L153.24 898.21 L155.54 898.64 L157.87 899.06 L160.23 899.48 L162.63 899.9 L165.07 900.31 L167.55 900.72 L170.06 901.13 L172.61 901.53 L175.2 901.94 L177.83 902.34 L180.5 902.73 L183.2 903.12 L185.95 903.52 L188.75 903.9 L191.58 904.29 L194.46 904.67 L197.38 905.05 L200.34 905.42 L203.36 905.8 L206.41 906.17 L209.51 906.54 L212.66 906.9 L215.86 907.26 L219.11 907.62 L222.4 907.98 L225.75 908.33 L229.15 908.69 L232.59 909.04 L236.1 909.38 L239.65 909.73 L243.26 910.07 L246.92 910.41 L250.64 910.74 L254.41 911.08 L258.24 911.41 L262.14 911.74 L266.08 912.06 L270.09 912.39 L274.16 912.71 L278.3 913.03 L282.49 913.34 L286.75 913.66 L291.07 913.97 L295.46 914.28 L299.92 914.58 L304.44 914.89 L309.04 915.19 L313.7 915.49 L318.43 915.79 L323.24 916.09 L328.11 916.38 L333.07 916.67 L338.09 916.96 L343.2 917.25 L348.38 917.53 L353.64 917.81 L358.98 918.09 L364.4 918.37 L369.9 918.65 L375.49 918.92 L381.16 919.19 L386.92 919.46 L392.77 919.73 L398.7 920 L404.73 920.26 L410.84 920.53 L417.05 920.79 L423.35 921.04 L429.75 921.3 L436.25 921.55 L442.85 921.81 L449.54 922.06 L456.34 922.31 L463.24 922.55 L470.24 922.8 L477.36 923.04 L484.58 923.28 L491.91 923.52 L499.35 923.76 L506.9 924" stroke="#d80f18" class="cv"/>
<path d="M48.1 916.41 L48.8 916.62 L49.5 916.83 L50.22 917.03 L50.95 917.24 L51.69 917.45 L52.45 917.65 L53.21 917.86 L53.98 918.06 L54.77 918.27 L55.57 918.47 L56.38 918.68 L57.2 918.88 L58.04 919.09 L58.89 919.29 L59.75 919.49 L60.62 919.7 L61.51 919.9 L62.41 920.1 L63.32 920.31 L64.25 920.51 L65.19 920.71 L66.15 920.91 L67.12 921.12 L68.11 921.32 L69.11 921.52 L70.13 921.72 L71.16 921.92 L72.21 922.12 L73.27 922.32 L74.35 922.52 L75.45 922.72 L76.56 922.92 L77.69 923.12 L78.83 923.32 L80 923.52 L81.18 923.72 L82.38 923.92 L83.6 924.12 L84.84 924.32 L86.09 924.52 L87.36 924.71 L88.66 924.91 L89.97 925.11 L91.31 925.31 L92.66 925.5 L94.03 925.7 L95.43 925.9 L96.85 926.09 L98.28 926.29 L99.74 926.49 L101.22 926.68 L102.73 926.88 L104.26 927.07 L105.81 927.27 L107.38 927.47 L108.98 927.66 L110.6 927.86 L112.25 928.05 L113.92 928.24 L115.62 928.44 L117.34 928.63 L119.09 928.83 L120.87 929.02 L122.67 929.21 L124.5 929.41 L126.36 929.6 L128.24 929.79 L130.16 929.99 L132.1 930.18 L134.08 930.37 L136.08 930.56 L138.11 930.76 L140.18 930.95 L142.27 931.14 L144.4 931.33 L146.56 931.52 L148.76 931.71 L150.98 931.91 L153.24 932.1 L155.54 932.29 L157.87 932.48 L160.23 932.67 L162.63 932.86 L165.07 933.05 L167.55 933.24 L170.06 933.43 L172.61 933.62 L175.2 933.81 L177.83 934 L180.5 934.18 L183.2 934.37 L185.95 934.56 L188.75 934.75 L191.58 934.94 L194.46 935.13 L197.38 935.31 L200.34 935.5 L203.36 935.69 L206.41 935.88 L209.51 936.07 L212.66 936.25 L215.86 936.44 L219.11 936.63 L222.4 936.81 L225.75 937 L229.15 937.19 L232.59 937.37 L236.1 937.56 L239.65 937.74 L243.26 937.93 L246.92 938.12 L250.64 938.3 L254.41 938.49 L258.24 938.67 L262.14 938.86 L266.08 939.04 L270.09 939.23 L274.16 939.41 L278.3 939.6 L282.49 939.78 L286.75 939.96 L291.07 940.15 L295.46 940.33 L299.92 940.52 L304.44 940.7 L309.04 940.88 L313.7 941.07 L318.43 941.25 L323.24 941.43 L328.11 941.62 L333.07 941.8 L338.09 941.98 L343.2 942.16 L348.38 942.35 L353.64 942.53 L358.98 942.71 L364.4 942.89 L369.9 943.08 L375.49 943.26 L381.16 943.44 L386.92 943.62 L392.77 943.8 L398.7 943.98 L404.73 944.16 L410.84 944.35 L417.05 944.53 L423.35 944.71 L429.75 944.89 L436.25 945.07 L442.85 945.25 L449.54 945.43 L456.34 945.61 L463.24 945.79 L470.24 945.97 L477.36 946.15 L484.58 946.33 L491.91 946.51 L499.35 946.69 L506.9 946.87" stroke="#056a0a" class="cv ds"/>
<path d="M48.1 831.64 L48.8 834.38 L49.5 837.08 L50.22 839.75 L50.95 842.37 L51.69 844.96 L52.45 847.51 L53.21 850.02 L53.98 852.49 L54.77 854.93 L55.57 857.32 L56.38 859.68 L57.2 862 L58.04 864.28 L58.89 866.52 L59.75 868.72 L60.62 870.89 L61.51 873.01 L62.41 875.1 L63.32 877.15 L64.25 879.16 L65.19 881.13 L66.15 883.06 L67.12 884.95 L68.11 886.81 L69.11 888.62 L70.13 890.4 L71.16 892.14 L72.21 893.84 L73.27 895.5 L74.35 897.12 L75.45 898.7 L76.56 900.25 L77.69 901.79 L78.83 903.33 L80 904.89 L81.18 906.45 L82.38 907.99 L83.6 909.44 L84.84 910.76 L86.09 911.9 L87.36 912.88 L88.66 913.73 L89.97 914.5 L91.31 915.21 L92.66 915.91 L94.03 916.61 L95.43 917.31 L96.85 918.01 L98.28 918.71 L99.74 919.41 L101.22 920.11 L102.73 920.81 L104.26 921.5 L105.81 922.2 L107.38 922.89 L108.98 923.58 L110.6 924.26 L112.25 924.95 L113.92 925.63 L115.62 926.31 L117.34 926.98 L119.09 927.65 L120.87 928.31 L122.67 928.98 L124.5 929.63 L126.36 930.28 L128.24 930.93 L130.16 931.57 L132.1 932.2 L134.08 932.83 L136.08 933.45 L138.11 934.06 L140.18 934.67 L142.27 935.27 L144.4 935.86 L146.56 936.44 L148.76 937.02 L150.98 937.59 L153.24 938.15 L155.54 938.71 L157.87 939.26 L160.23 939.8 L162.63 940.33 L165.07 940.86 L167.55 941.38 L170.06 941.89 L172.61 942.4 L175.2 942.9 L177.83 943.39 L180.5 943.88 L183.2 944.36 L185.95 944.83 L188.75 945.3 L191.58 945.76 L194.46 946.21 L197.38 946.65 L200.34 947.09 L203.36 947.53 L206.41 947.96 L209.51 948.38 L212.66 948.79 L215.86 949.2 L219.11 949.6 L222.4 950 L225.75 950.38 L229.15 950.77 L232.59 951.15 L236.1 951.52 L239.65 951.88 L243.26 952.24 L246.92 952.59 L250.64 952.94 L254.41 953.28 L258.24 953.62 L262.14 953.95 L266.08 954.27 L270.09 954.59 L274.16 954.9 L278.3 955.21 L282.49 955.51 L286.75 955.81 L291.07 956.1 L295.46 956.38 L299.92 956.66 L304.44 956.94 L309.04 957.2 L313.7 957.47 L318.43 957.73 L323.24 957.98 L328.11 958.23 L333.07 958.47 L338.09 958.71 L343.2 958.94 L348.38 959.17 L353.64 959.39 L358.98 959.6 L364.4 959.82 L369.9 960.02 L375.49 960.23 L381.16 960.43 L386.92 960.62 L392.77 960.81 L398.7 960.99 L404.73 961.17 L410.84 961.34 L417.05 961.51 L423.35 961.68 L429.75 961.84 L436.25 961.99 L442.85 962.15 L449.54 962.29 L456.34 962.44 L463.24 962.58 L470.24 962.71 L477.36 962.84 L484.58 962.97 L491.91 963.09 L499.35 963.21 L506.9 963.32" stroke="#0707bf" class="cv ds"/>
<path d="M48.1 752.02 L48.8 754.81 L49.5 757.56 L50.22 760.29 L50.95 762.99 L51.69 765.67 L52.45 768.31 L53.21 770.93 L53.98 773.52 L54.77 776.07 L55.57 778.6 L56.38 781.1 L57.2 783.57 L58.04 786 L58.89 788.41 L59.75 790.78 L60.62 793.12 L61.51 795.43 L62.41 797.71 L63.32 799.95 L64.25 802.16 L65.19 804.33 L66.15 806.48 L67.12 808.58 L68.11 810.65 L69.11 812.69 L70.13 814.69 L71.16 816.66 L72.21 818.59 L73.27 820.48 L74.35 822.34 L75.45 824.15 L76.56 825.93 L77.69 827.67 L78.83 829.37 L80 831.02 L81.18 832.63 L82.38 834.2 L83.6 835.71 L84.84 837.18 L86.09 838.59 L87.36 839.95 L88.66 841.26 L89.97 842.51 L91.31 843.7 L92.66 844.83 L94.03 845.91 L95.43 846.92 L96.85 847.88 L98.28 848.79 L99.74 849.66 L101.22 850.48 L102.73 851.27 L104.26 852.03 L105.81 852.77 L107.38 853.48 L108.98 854.18 L110.6 854.87 L112.25 855.55 L113.92 856.23 L115.62 856.92 L117.34 857.61 L119.09 858.33 L120.87 859.06 L122.67 859.82 L124.5 860.6 L126.36 861.41 L128.24 862.23 L130.16 863.06 L132.1 863.9 L134.08 864.75 L136.08 865.6 L138.11 866.45 L140.18 867.29 L142.27 868.12 L144.4 868.95 L146.56 869.77 L148.76 870.58 L150.98 871.38 L153.24 872.17 L155.54 872.95 L157.87 873.73 L160.23 874.5 L162.63 875.26 L165.07 876.01 L167.55 876.76 L170.06 877.5 L172.61 878.22 L175.2 878.95 L177.83 879.66 L180.5 880.37 L183.2 881.06 L185.95 881.75 L188.75 882.44 L191.58 883.11 L194.46 883.78 L197.38 884.44 L200.34 885.1 L203.36 885.74 L206.41 886.38 L209.51 887.01 L212.66 887.64 L215.86 888.26 L219.11 888.87 L222.4 889.47 L225.75 890.07 L229.15 890.65 L232.59 891.24 L236.1 891.81 L239.65 892.38 L243.26 892.94 L246.92 893.5 L250.64 894.04 L254.41 894.59 L258.24 895.12 L262.14 895.65 L266.08 896.17 L270.09 896.68 L274.16 897.19 L278.3 897.69 L282.49 898.19 L286.75 898.68 L291.07 899.16 L295.46 899.64 L299.92 900.11 L304.44 900.57 L309.04 901.03 L313.7 901.48 L318.43 901.93 L323.24 902.37 L328.11 902.8 L333.07 903.23 L338.09 903.65 L343.2 904.07 L348.38 904.48 L353.64 904.88 L358.98 905.28 L364.4 905.67 L369.9 906.06 L375.49 906.44 L381.16 906.82 L386.92 907.19 L392.77 907.55 L398.7 907.91 L404.73 908.27 L410.84 908.62 L417.05 908.96 L423.35 909.3 L429.75 909.63 L436.25 909.96 L442.85 910.28 L449.54 910.6 L456.34 910.91 L463.24 911.22 L470.24 911.52 L477.36 911.82 L484.58 912.11 L491.91 912.4 L499.35 912.68 L506.9 912.96" stroke="#d80f18" class="cv ds"/>
<path d="M48.1 997.3v-4.5M48.1 724.2v4.5M139.86 997.3v-4.5M139.86 724.2v4.5M231.62 997.3v-4.5M231.62 724.2v4.5M323.38 997.3v-4.5M323.38 724.2v4.5M415.14 997.3v-4.5M415.14 724.2v4.5M506.9 997.3v-4.5M506.9 724.2v4.5M48.1 997.3h4.5M506.9 997.3h-4.5M48.1 906.27h4.5M506.9 906.27h-4.5M48.1 815.23h4.5M506.9 815.23h-4.5M48.1 724.2h4.5M506.9 724.2h-4.5" class="ax"/>
<rect x="48.1" y="724.2" width="458.8" height="273.1" class="ax"/>
<text x="48.1" y="1016.6" text-anchor="middle">0.2</text>
<text x="139.86" y="1016.6" text-anchor="middle">0.6</text>
<text x="231.62" y="1016.6" text-anchor="middle">1</text>
<text x="323.38" y="1016.6" text-anchor="middle">1.4</text>
<text x="415.14" y="1016.6" text-anchor="middle">1.8</text>
<text x="506.9" y="1016.6" text-anchor="middle">2.2</text>
<text x="45.6" y="1004.3" text-anchor="end">0</text>
<text x="45.6" y="913.27" text-anchor="end">0.5</text>
<text x="45.6" y="822.23" text-anchor="end">1</text>
<text x="45.6" y="731.2" text-anchor="end">1.5</text>
<text x="277.5" y="1032.6" text-anchor="middle">Gap size, <tspan font-style="italic">g</tspan> [mm]</text>
<text transform="translate(15 860.75) rotate(-90)" text-anchor="middle">SRR capacitance [pF]</text>
<text x="51.9" y="744.8" word-spacing="0.45"><tspan font-style="italic">h</tspan> = 10 mm</text>
<text x="277.3" y="1058.7" text-anchor="middle">(c)</text>
<rect x="323.4" y="728" width="178.8" height="143.5" fill="#fff" class="ax"/>
<line x1="326.6" y1="741" x2="343.2" y2="741" stroke="#0707bf" stroke-width="2.2"/>
<text x="345.7" y="747.8">Gap:</text>
<text x="413.7" y="747.8"><tspan font-style="italic">w</tspan>=0.8 mm</text>
<line x1="326.6" y1="764.65" x2="343.2" y2="764.65" stroke="#056a0a" stroke-width="2.2"/>
<text x="345.7" y="771.45">Surface:</text>
<text x="416.4" y="771.45"><tspan font-style="italic">w</tspan>=0.8 mm</text>
<line x1="326.6" y1="788.3" x2="343.2" y2="788.3" stroke="#d80f18" stroke-width="2.2"/>
<text x="345.7" y="795.1">Total:</text>
<text x="416.4" y="795.1"><tspan font-style="italic">w</tspan>=0.8 mm</text>
<line x1="326.6" y1="811.95" x2="343.2" y2="811.95" stroke="#0707bf" stroke-width="2.2" class="ld"/>
<text x="345.7" y="818.75">Gap:</text>
<text x="413.7" y="818.75"><tspan font-style="italic">w</tspan>=1.6 mm</text>
<line x1="326.6" y1="835.6" x2="343.2" y2="835.6" stroke="#056a0a" stroke-width="2.2" class="ld"/>
<text x="345.7" y="842.4">Surface:</text>
<text x="416.4" y="842.4"><tspan font-style="italic">w</tspan>=1.6 mm</text>
<line x1="326.6" y1="859.25" x2="343.2" y2="859.25" stroke="#d80f18" stroke-width="2.2" class="ld"/>
<text x="345.7" y="866.05">Total:</text>
<text x="416.4" y="866.05"><tspan font-style="italic">w</tspan>=1.6 mm</text>
</svg>
</body></html>
